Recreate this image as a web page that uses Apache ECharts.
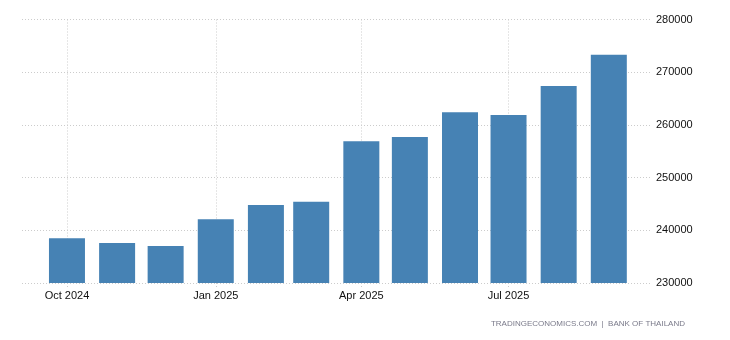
<!DOCTYPE html>
<html>
<head>
<meta charset="utf-8">
<script src="https://cdn.jsdelivr.net/npm/echarts@6/dist/echarts.min.js"></script>
<style>
  html, body { margin: 0; padding: 0; background: #fff; }
  #chart { width: 730px; height: 340px; }
</style>
</head>
<body>
<div id="chart"></div>
<script>
// Monthly observations (first day of each month)
const months = [
  '2024-10-01', '2024-11-01', '2024-12-01', '2025-01-01',
  '2025-02-01', '2025-03-01', '2025-04-01', '2025-05-01',
  '2025-06-01', '2025-07-01', '2025-08-01', '2025-09-01'
];
const values = [
  238500, 237600, 237000, 242100,
  244800, 245400, 256900, 257700,
  262400, 261900, 267400, 273300
];

// Quarterly tick marks on the date axis
const tickDates = ['2024-10-01', '2025-01-01', '2025-04-01', '2025-07-01'];
const tickLabels = ['Oct 2024', 'Jan 2025', 'Apr 2025', 'Jul 2025'];

// Value axis ticks
const yTicks = [230000, 240000, 250000, 260000, 270000, 280000];

const DAY = 86400000;
const toTs = s => {
  const [y, m, d] = s.split('-').map(Number);
  return Date.UTC(y, m - 1, d);
};

const tickTs = tickDates.map(toTs);
const labelByTs = {};
tickTs.forEach((t, i) => { labelByTs[t] = tickLabels[i]; });

const xMin = toTs(months[0]) - 27.8 * DAY;
const xMax = toTs(months[months.length - 1]) + 26.7 * DAY;

const gridStyle = { color: '#cccccc', type: [1, 2], width: 1 };

const chart = echarts.init(document.getElementById('chart'), null, { renderer: 'canvas' });

chart.setOption({
  animation: false,
  backgroundColor: '#ffffff',
  textStyle: { fontFamily: 'Liberation Sans, Arial, sans-serif' },
  grid: { left: 22, right: 78, top: 19.5, bottom: 57, containLabel: false },
  xAxis: {
    type: 'value',
    min: xMin,
    max: xMax,
    axisLine: { show: false },
    axisTick: {
      show: true,
      customValues: tickTs,
      length: 4,
      lineStyle: gridStyle
    },
    axisLabel: {
      customValues: tickTs,
      formatter: v => labelByTs[v] || '',
      color: '#111111',
      fontSize: 11,
      margin: 7
    },
    splitLine: { show: true, lineStyle: gridStyle }
  },
  yAxis: {
    type: 'value',
    position: 'right',
    min: yTicks[0],
    max: yTicks[yTicks.length - 1],
    interval: 10000,
    axisLine: { show: false },
    axisTick: { show: false },
    axisLabel: {
      color: '#111111',
      fontSize: 11,
      margin: 4,
      formatter: v => String(v)
    },
    splitLine: { show: true, lineStyle: gridStyle }
  },
  series: [{
    type: 'bar',
    data: months.map((m, i) => [toTs(m), values[i]]),
    barWidth: 36,
    itemStyle: { color: '#4682b4' }
  }],
  graphic: [{
    type: 'text',
    right: 45,
    top: 320,
    style: {
      text: 'TRADINGECONOMICS.COM  |  BANK OF THAILAND',
      fill: '#7a7a8a',
      font: '8px "Liberation Sans", Arial, sans-serif'
    }
  }]
});
</script>
</body>
</html>
